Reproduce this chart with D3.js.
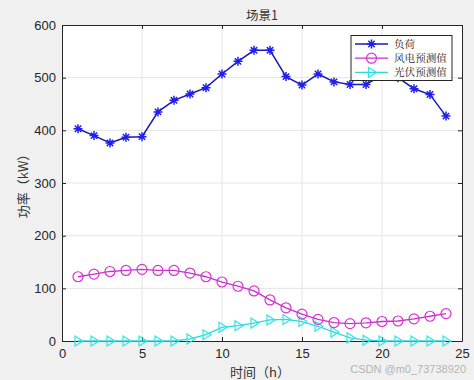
<!DOCTYPE html>
<html><head><meta charset="utf-8">
<script src="https://cdn.jsdelivr.net/npm/d3@7/dist/d3.min.js"></script>
<style>body{margin:0;background:#f0f0f0;}svg{display:block;}</style>
</head><body>
<script>
const hours = d3.range(1, 25);
const load = [403,390,376,387,388,435,457,469,481,507,531,552,552,502,486,507,492,487,487,505,500,479,468,427];
const wind = [122,127,132,134,136,134,134,129,122,112,104,95,78,63,51,41,35,33,34.5,37,38,42,47,52];
const pv = [0,0,0,0,0,0,0,4,12,26,29,34,40,41,37,28,17,6,1.5,0,0,0,0,0];
const xTicks = [0,5,10,15,20,25];
const yTicks = [0,100,200,300,400,500,600];
const seriesNames = ["负荷","风电预测值","光伏预测值"];

const W = 474, H = 380;
const svg = d3.select("body").append("svg").attr("width", W).attr("height", H);
svg.append("rect").attr("width", W).attr("height", H).attr("fill", "#f0f0f0");

const x = d3.scaleLinear().domain([0,25]).range([62,462]);
const y = d3.scaleLinear().domain([0,600]).range([341,25]);

svg.append("rect").attr("x", x(0)).attr("y", y(600)).attr("width", x(25)-x(0)).attr("height", y(0)-y(600)).attr("fill", "#fff");

// grid
const g = svg.append("g");
g.selectAll(".gx").data(xTicks.slice(1,-1)).enter().append("line")
  .attr("x1", d=>x(d)).attr("x2", d=>x(d)).attr("y1", y(0)).attr("y2", y(600))
  .attr("stroke", "#e4e4e4").attr("stroke-width", 1);
g.selectAll(".gy").data(yTicks.slice(1,-1)).enter().append("line")
  .attr("x1", x(0)).attr("x2", x(25)).attr("y1", d=>y(d)).attr("y2", d=>y(d))
  .attr("stroke", "#e4e4e4").attr("stroke-width", 1);

// axes
const font = "'Liberation Sans', Arial, Helvetica, sans-serif";
const xAxis = svg.append("g").attr("transform", `translate(0,${y(0)})`)
  .call(d3.axisBottom(x).tickValues(xTicks).tickSizeInner(-4).tickSizeOuter(0).tickPadding(8));
const xAxisTop = svg.append("g").attr("transform", `translate(0,${y(600)})`)
  .call(d3.axisTop(x).tickValues(xTicks).tickSizeInner(-4).tickSizeOuter(0).tickFormat(""));
const yAxis = svg.append("g").attr("transform", `translate(${x(0)},0)`)
  .call(d3.axisLeft(y).tickValues(yTicks).tickSizeInner(-4).tickSizeOuter(0).tickPadding(6));
const yAxisR = svg.append("g").attr("transform", `translate(${x(25)},0)`)
  .call(d3.axisRight(y).tickValues(yTicks).tickSizeInner(-4).tickSizeOuter(0).tickFormat(""));
[xAxis, xAxisTop, yAxis, yAxisR].forEach(a => {
  a.selectAll("path").attr("stroke", "#262626").attr("stroke-width", 1);
  a.selectAll("line").attr("stroke", "#262626");
  a.selectAll("text").attr("fill", "#262626").style("font-family", font).style("font-size", "13px");
});

// lines
const lineGen = vals => d3.line().x((d,i)=>x(hours[i])).y(d=>y(d))(vals);

// PV
svg.append("path").attr("d", lineGen(pv)).attr("fill", "none").attr("stroke", "#33d6d6").attr("stroke-width", 1.3);
const tri = (cx, cy, s) => `M${cx-s*0.6},${cy-s} L${cx+s*1.0},${cy} L${cx-s*0.6},${cy+s} Z`;
svg.selectAll(".pv").data(pv).enter().append("path")
  .attr("d", (d,i)=>tri(x(hours[i]), y(d), 5)).attr("fill", "none").attr("stroke", "#2ee6e6").attr("stroke-width", 1.2);

// wind
svg.append("path").attr("d", lineGen(wind)).attr("fill", "none").attr("stroke", "#c832c8").attr("stroke-width", 1.3);
svg.selectAll(".wd").data(wind).enter().append("circle")
  .attr("cx", (d,i)=>x(hours[i])).attr("cy", d=>y(d)).attr("r", 5)
  .attr("fill", "none").attr("stroke", "#d633d6").attr("stroke-width", 1.2);

// load
svg.append("path").attr("d", lineGen(load)).attr("fill", "none").attr("stroke", "#1a1ab4").attr("stroke-width", 1.5);
const star = (cx, cy, s) => {
  const k = s*0.7071;
  return `M${cx-s},${cy}L${cx+s},${cy}M${cx},${cy-s}L${cx},${cy+s}M${cx-k},${cy-k}L${cx+k},${cy+k}M${cx-k},${cy+k}L${cx+k},${cy-k}`;
};
svg.selectAll(".ld").data(load).enter().append("path")
  .attr("d", (d,i)=>star(x(hours[i]), y(d), 4.5)).attr("fill", "none").attr("stroke", "#1f1ff0").attr("stroke-width", 1.5);

// legend
const lg = svg.append("g");
lg.append("rect").attr("x", 351).attr("y", 35.5).attr("width", 101).attr("height", 45)
  .attr("fill", "#fff").attr("stroke", "#262626").attr("stroke-width", 1);
const legColors = [["#1a1ab4","#1f1ff0"],["#c832c8","#d633d6"],["#33d6d6","#2ee6e6"]];
seriesNames.forEach((n, i) => {
  const ly = 44 + i*14.2;
  lg.append("line").attr("x1", 355).attr("x2", 388).attr("y1", ly).attr("y2", ly)
    .attr("stroke", legColors[i][0]).attr("stroke-width", i===0?1.5:1.3);
  const cx = 371.5;
  if (i===0) lg.append("path").attr("d", star(cx, ly, 4.5)).attr("stroke", legColors[i][1]).attr("stroke-width", 1.5).attr("fill","none");
  if (i===1) lg.append("circle").attr("cx", cx).attr("cy", ly).attr("r", 5).attr("stroke", legColors[i][1]).attr("stroke-width", 1.2).attr("fill","none");
  if (i===2) lg.append("path").attr("d", tri(cx, ly, 5)).attr("stroke", legColors[i][1]).attr("stroke-width", 1.2).attr("fill","none");
  lg.append("text").attr("x", 394).attr("y", ly).attr("dy", "0.36em").text(n)
    .attr("fill", "#262626").style("font-family", "'Noto Serif CJK SC','Noto Sans CJK SC',serif").style("font-size", "10.6px");
});

// title & labels
const cjk = "'Noto Sans CJK SC', sans-serif";
svg.append("text").attr("x", 262).attr("y", 20).attr("text-anchor", "middle").text("场景1")
  .attr("fill", "#333").style("font-family", cjk).style("font-size", "12.5px");
svg.append("text").attr("x", 260).attr("y", 377).attr("text-anchor", "middle").text("时间（h）")
  .attr("fill", "#333").style("font-family", cjk).style("font-size", "13px");
svg.append("text").attr("transform", `translate(28,183) rotate(-90)`).attr("text-anchor", "middle").text("功率（kW）")
  .attr("fill", "#333").style("font-family", cjk).style("font-size", "13px");

// watermark
svg.append("text").attr("x", 466).attr("y", 373).attr("text-anchor", "end").text("CSDN @m0_73738920")
  .attr("fill", "#b4b4b4").style("font-family", font).style("font-size", "11px");
</script>
</body></html>
